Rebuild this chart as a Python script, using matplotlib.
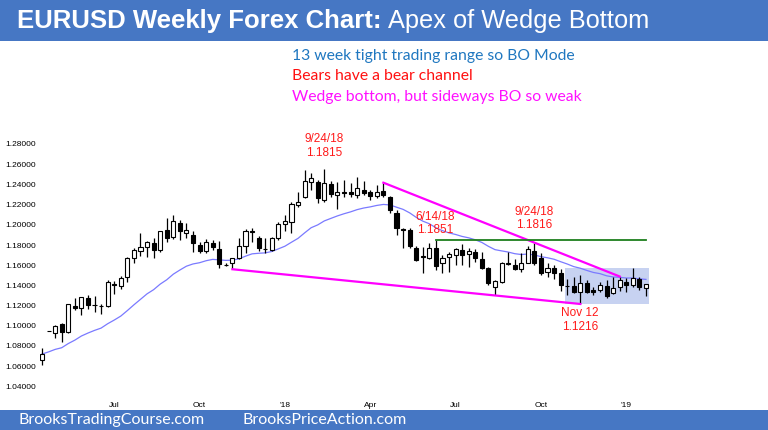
import matplotlib
matplotlib.use("Agg")
import matplotlib.pyplot as plt
import numpy as np
import pandas as pd
from matplotlib.patches import Rectangle

# ---------------- data (weekly EURUSD, weeks starting 2017-04-17) ----------------
start_week = "2017-04-17"
opens = [1.0660, 1.0945, 1.0930, 1.1020, 1.0936, 1.1195, 1.1173, 1.1275, 1.1208, 1.1198,
         1.1196, 1.1415, 1.1394, 1.1480, 1.1668, 1.1744, 1.1777, 1.1823, 1.1750, 1.1951,
         1.1882, 1.2022, 1.1918, 1.1900, 1.1800, 1.1740, 1.1817, 1.1760, 1.1605, 1.1618,
         1.1668, 1.1790, 1.1938, 1.1866, 1.1762, 1.1750, 1.1866, 1.2008, 1.2031, 1.2196,
         1.2278, 1.2427, 1.2427, 1.2246, 1.2400, 1.2295, 1.2325, 1.2328, 1.2295, 1.2345,
         1.2328, 1.2285, 1.2335, 1.2273, 1.2120, 1.1958, 1.1951, 1.1767, 1.1688, 1.1668,
         1.1767, 1.1618, 1.1678, 1.1700, 1.1750, 1.1710, 1.1733, 1.1657, 1.1570, 1.1387,
         1.1437, 1.1615, 1.1600, 1.1559, 1.1626, 1.1740, 1.1668, 1.1530, 1.1576, 1.1527,
         1.1392, 1.1394, 1.1338, 1.1420, 1.1355, 1.1355, 1.1397, 1.1320, 1.1387, 1.1437,
         1.1404, 1.1463, 1.1370]
highs = [1.0780, 1.0952, 1.1010, 1.1030, 1.1220, 1.1275, 1.1290, 1.1305, 1.1300, 1.1220,
         1.1453, 1.1444, 1.1493, 1.1684, 1.1773, 1.1916, 1.1843, 1.1866, 1.1940, 1.2070,
         1.2097, 1.2048, 1.2016, 1.1940, 1.1833, 1.1856, 1.1850, 1.1843, 1.1620, 1.1668,
         1.1870, 1.1958, 1.1966, 1.1890, 1.1866, 1.1883, 1.2031, 1.2097, 1.2229, 1.2322,
         1.2543, 1.2510, 1.2444, 1.2555, 1.2434, 1.2427, 1.2444, 1.2411, 1.2477, 1.2434,
         1.2345, 1.2394, 1.2417, 1.2285, 1.2147, 1.1965, 1.1965, 1.1790, 1.1783, 1.1817,
         1.1851, 1.1700, 1.1728, 1.1767, 1.1810, 1.1767, 1.1757, 1.1730, 1.1584, 1.1453,
         1.1635, 1.1733, 1.1657, 1.1720, 1.1790, 1.1816, 1.1717, 1.1618, 1.1600, 1.1559,
         1.1460, 1.1488, 1.1503, 1.1453, 1.1387, 1.1437, 1.1453, 1.1488, 1.1488, 1.1470,
         1.1570, 1.1488, 1.1417]
lows = [1.0610, 1.0944, 1.0880, 1.0840, 1.0930, 1.1156, 1.1110, 1.1170, 1.1140, 1.1120,
        1.1190, 1.1315, 1.1365, 1.1437, 1.1620, 1.1690, 1.1678, 1.1668, 1.1730, 1.1833,
        1.1856, 1.1850, 1.1866, 1.1726, 1.1720, 1.1718, 1.1750, 1.1576, 1.1590, 1.1560,
        1.1657, 1.1718, 1.1833, 1.1743, 1.1718, 1.1740, 1.1850, 1.1934, 1.1922, 1.2179,
        1.2268, 1.2345, 1.2218, 1.2229, 1.2278, 1.2153, 1.2278, 1.2278, 1.2263, 1.2295,
        1.2246, 1.2263, 1.2278, 1.2120, 1.1900, 1.1767, 1.1767, 1.1645, 1.1526, 1.1657,
        1.1552, 1.1520, 1.1537, 1.1600, 1.1600, 1.1584, 1.1635, 1.1560, 1.1404, 1.1301,
        1.1420, 1.1600, 1.1552, 1.1537, 1.1618, 1.1600, 1.1503, 1.1488, 1.1460, 1.1345,
        1.1305, 1.1328, 1.1216, 1.1320, 1.1305, 1.1338, 1.1278, 1.1315, 1.1345, 1.1338,
        1.1387, 1.1355, 1.1295]
closes = [1.0720, 1.0948, 1.1000, 1.0940, 1.1216, 1.1180, 1.1288, 1.1206, 1.1204, 1.1194,
          1.1430, 1.1403, 1.1470, 1.1668, 1.1750, 1.1777, 1.1833, 1.1750, 1.1934, 1.1866,
          1.2038, 1.1942, 1.1951, 1.1823, 1.1740, 1.1833, 1.1783, 1.1609, 1.1598, 1.1668,
          1.1790, 1.1939, 1.1932, 1.1773, 1.1758, 1.1866, 1.2008, 1.2038, 1.2203, 1.2229,
          1.2434, 1.2460, 1.2263, 1.2411, 1.2302, 1.2322, 1.2312, 1.2305, 1.2361, 1.2318,
          1.2285, 1.2328, 1.2295, 1.2147, 1.1965, 1.1948, 1.1790, 1.1651, 1.1680, 1.1767,
          1.1592, 1.1668, 1.1708, 1.1757, 1.1700, 1.1740, 1.1668, 1.1575, 1.1420, 1.1444,
          1.1626, 1.1622, 1.1559, 1.1626, 1.1757, 1.1618, 1.1520, 1.1570, 1.1520, 1.1404,
          1.1397, 1.1338, 1.1420, 1.1338, 1.1338, 1.1404, 1.1295, 1.1371, 1.1453, 1.1404,
          1.1470, 1.1387, 1.1410]

y_ticks = [1.04, 1.06, 1.08, 1.10, 1.12, 1.14, 1.16, 1.18, 1.20, 1.22, 1.24, 1.26, 1.28]
x_tick_dates = ["2017-07-01", "2017-10-01", "2018-01-01", "2018-04-01",
                "2018-07-01", "2018-10-01", "2019-01-01"]
x_tick_labels = ["Jul", "Oct", "'18", "Apr", "Jul", "Oct", "'19"]

notes = ["13 week tight trading range so BO Mode",
         "Bears have a bear channel",
         "Wedge bottom, but sideways BO so weak"]
note_colors = ["#1F77C0", "#FF1010", "#FF10FF"]

# key bar indices used for drawn lines / box
upper_wedge = (52, 88)    # highs
lower_wedge = (29, 82)    # lows
green_from = 60           # 6/14/18 high
range_bars = (80, 92)     # 13 week trading range

# ---------------- figure ----------------
W, H = 768, 430
fig = plt.figure(figsize=(W / 100, H / 100), dpi=100)
BLUE = "#4677C4"

def fx(px):
    return px / W

def fy(py):
    return 1 - py / H

# axes geometry (pixels)
ax_l, ax_r, ax_t, ax_b = 40, 768, 125, 398
x0_px, px_per_bar = 42.0, 6.565
y_ref_px, y_ref_val, px_per_unit = 144.0, 1.28, 1010.0

ax = fig.add_axes([fx(ax_l), fy(ax_b), (ax_r - ax_l) / W, (ax_b - ax_t) / H])
ax.set_xlim((ax_l - x0_px) / px_per_bar, (ax_r - x0_px) / px_per_bar)
ax.set_ylim(y_ref_val - (ax_b - y_ref_px) / px_per_unit,
            y_ref_val + (y_ref_px - ax_t) / px_per_unit)
for s in ax.spines.values():
    s.set_visible(False)

o = np.array(opens); h = np.array(highs); l = np.array(lows); c = np.array(closes)
idx = np.arange(len(c))
dates = pd.date_range(start_week, periods=len(c), freq="7D")

# trading range box
r0, r1 = range_bars
ax.add_patch(Rectangle((r0 - 0.3, l[r0:r1 + 1].min()), (r1 + 0.5) - (r0 - 0.3),
                       h[r0:r1 + 1].max() - l[r0:r1 + 1].min(),
                       facecolor="#C7D2F1", edgecolor="none", zorder=1))

# EMA 20
ema = pd.Series(c).ewm(span=20, adjust=False).mean()
ax.plot(idx, ema, color="#7A7AFF", lw=0.9, zorder=2)

# candles
ax.vlines(idx, l, h, color="black", lw=0.9, zorder=3)
up = c >= o
bottoms = np.minimum(o, c)
heights = np.abs(c - o)
ax.bar(idx[up], heights[up], bottom=bottoms[up], width=0.62,
       facecolor="white", edgecolor="black", lw=0.8, zorder=4)
ax.bar(idx[~up], heights[~up], bottom=bottoms[~up], width=0.62,
       facecolor="black", edgecolor="black", lw=0.8, zorder=4)

# wedge lines
a, b = upper_wedge
ax.plot([a, b], [h[a], h[b]], color="#FF00FF", lw=1.6, zorder=5)
a, b = lower_wedge
ax.plot([a, b], [l[a], l[b]], color="#FF00FF", lw=1.6, zorder=5)
ax.plot([green_from, len(c) - 1], [h[green_from], h[green_from]], color="#1E7F1E", lw=1.3, zorder=5)

# axes ticks
ax.set_yticks(y_ticks)
ax.set_yticklabels([f"{v:.5f}" for v in y_ticks], fontsize=6, family="Liberation Sans")
tick_pos = [int(np.argmax(dates + pd.Timedelta(days=4) >= pd.Timestamp(d))) for d in x_tick_dates]
ax.set_xticks(tick_pos)
ax.set_xticklabels(x_tick_labels, fontsize=6, family="Liberation Sans")
ax.tick_params(length=0, pad=3)

# red labels
red = "#FF1A1A"
labels = [("9/24/18", 324, 139), ("1.1815", 324, 152.5),
          ("6/14/18", 435, 217), ("1.1851", 435, 230),
          ("9/24/18", 534, 212), ("1.1816", 534, 225.5),
          ("Nov 12", 580, 313.5), ("1.1216", 580, 327)]
for t, px, py in labels:
    fig.text(fx(px), fy(py), t, color=red, fontsize=8.5, family="Liberation Sans",
             ha="center", va="center")

# banners
fig.patches.append(Rectangle((0, fy(41)), 1, 41 / H, transform=fig.transFigure,
                             facecolor=BLUE, edgecolor="none", zorder=0))
fig.patches.append(Rectangle((0, 0), 1, (H - 410) / H, transform=fig.transFigure,
                             facecolor=BLUE, edgecolor="none", zorder=0))

t1 = fig.text(fx(17), fy(21), "EURUSD Weekly Forex Chart:", color="white", fontsize=18.5,
              fontweight="bold", family="Liberation Sans", va="center", ha="left")
fig.canvas.draw()
bb = t1.get_window_extent()
fig.text((bb.x1 + 6) / W, fy(21), "Apex of Wedge Bottom", color="white", fontsize=18.3,
         family="Liberation Sans", va="center", ha="left")

for i, (t, col) in enumerate(zip(notes, note_colors)):
    fig.text(fx(292), fy(56 + 20.5 * i), t, color=col, fontsize=11.3, family="Lato",
             va="center", ha="left")

fig.text(fx(18), fy(420), "BrooksTradingCourse.com", color="white", fontsize=11.5,
         family="Lato", va="center", ha="left")
fig.text(fx(243), fy(420), "BrooksPriceAction.com", color="white", fontsize=11.5,
         family="Lato", va="center", ha="left")

fig.savefig("out.png", dpi=100)
